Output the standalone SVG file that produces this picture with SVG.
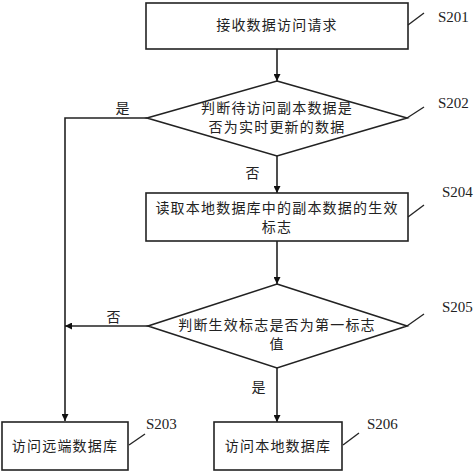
<svg xmlns="http://www.w3.org/2000/svg" width="474" height="471" viewBox="0 0 474 471">
<defs>
<marker id="ah" viewBox="0 0 10 10" refX="10" refY="5" markerWidth="7" markerHeight="7" orient="auto" markerUnits="userSpaceOnUse">
<path d="M0,0 L10,5 L0,10 z" fill="#111"/>
</marker>
<style>
.box{fill:#fff;stroke:#222;stroke-width:1.6}
.t{font-family:"Noto Sans CJK SC","Noto Sans",sans-serif;font-size:14px;fill:#222;text-anchor:middle;letter-spacing:1.2px}
.s{font-family:"Liberation Serif",serif;font-size:15px;fill:#222}
.ln{fill:none;stroke:#222;stroke-width:1.6}
.ld{fill:none;stroke:#222;stroke-width:1.3}
</style>
</defs>
<rect width="474" height="471" fill="#fff"/>
<g id="connectors">
<line class="ln" x1="277" y1="49" x2="277" y2="81" marker-end="url(#ah)"/>
<polyline class="ln" points="147,118 65,118 65,421" marker-end="url(#ah)"/>
<line class="ln" x1="277" y1="156" x2="277" y2="193" marker-end="url(#ah)"/>
<line class="ln" x1="277" y1="241" x2="277" y2="284" marker-end="url(#ah)"/>
<line class="ln" x1="148" y1="326" x2="65" y2="326" marker-end="url(#ah)"/>
<line class="ln" x1="277" y1="368" x2="277" y2="422" marker-end="url(#ah)"/>
<text class="t" x="123" y="113">是</text>
<text class="t" x="253" y="178">否</text>
<text class="t" x="114" y="322">否</text>
<text class="t" x="259" y="392">是</text>
</g>
<g id="S201">
<rect class="box" x="146" y="3" width="262" height="46"/>
<text class="t" x="277" y="30">接收数据访问请求</text>
<line class="ld" x1="408" y1="25" x2="424" y2="13"/>
<text class="s" x="438" y="22">S201</text>
</g>
<g id="S202">
<polygon class="box" points="277,81 407,118 277,156 147,118"/>
<text class="t" x="277" y="113">判断待访问副本数据是</text>
<text class="t" x="277" y="132">否为实时更新的数据</text>
<line class="ld" x1="407" y1="118" x2="424" y2="107"/>
<text class="s" x="438" y="108">S202</text>
</g>
<g id="S204">
<rect class="box" x="146" y="193" width="262" height="48"/>
<text class="t" x="277" y="213">读取本地数据库中的副本数据的生效</text>
<text class="t" x="277" y="232">标志</text>
<line class="ld" x1="408" y1="217" x2="424" y2="205"/>
<text class="s" x="442" y="197">S204</text>
</g>
<g id="S205">
<polygon class="box" points="277,284 407,326 277,368 148,326"/>
<text class="t" x="277" y="330">判断生效标志是否为第一标志</text>
<text class="t" x="277" y="349">值</text>
<line class="ld" x1="407" y1="326" x2="424" y2="314"/>
<text class="s" x="442" y="312">S205</text>
</g>
<g id="S203">
<rect class="box" x="2" y="422" width="126" height="48"/>
<text class="t" x="65" y="451">访问远端数据库</text>
<line class="ld" x1="129" y1="445" x2="145" y2="434"/>
<text class="s" x="146" y="429">S203</text>
</g>
<g id="S206">
<rect class="box" x="214" y="422" width="128" height="48"/>
<text class="t" x="278" y="451">访问本地数据库</text>
<line class="ld" x1="343" y1="445" x2="359" y2="433"/>
<text class="s" x="367" y="429">S206</text>
</g>
</svg>
